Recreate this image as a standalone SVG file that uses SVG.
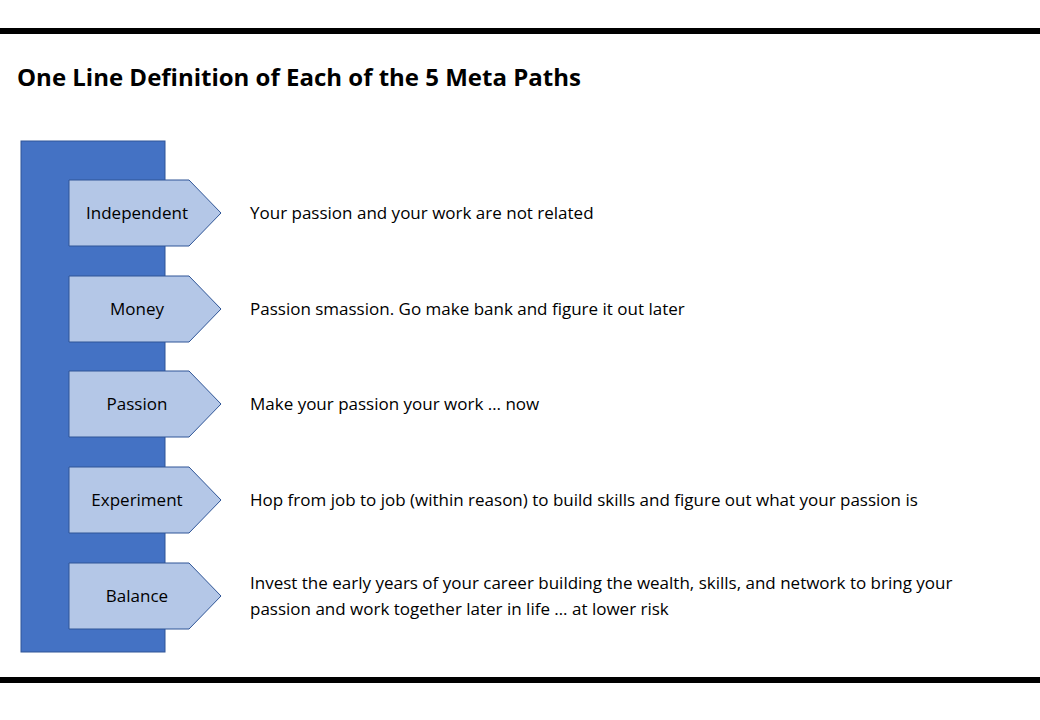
<svg xmlns="http://www.w3.org/2000/svg" width="1040" height="720" viewBox="0 0 1040 720">
<style>
text{font-family:"Open Sans","Liberation Sans",sans-serif;fill:#000}
.t{font-size:17px}
.n{font-size:17px;text-anchor:middle}
.p{fill:#b4c7e7;stroke:#2f5597;stroke-width:1}
</style>
<rect width="1040" height="720" fill="#fff"/>
<rect x="0" y="28" width="1040" height="6" fill="#000"/>
<rect x="0" y="677" width="1040" height="6" fill="#000"/>
<text x="17" y="86" style="font-size:24px;font-weight:bold">One Line Definition of Each of the 5 Meta Paths</text>
<rect x="21" y="141" width="144" height="511" fill="#4472c4" stroke="#2f5597"/>
<g id="connectors"></g>
<g id="n1"><polygon class="p" points="69,180 189,180 221,213 189,246 69,246"/><text class="n" x="137" y="219">Independent</text></g>
<g id="n2"><polygon class="p" points="69,276 189,276 221,309 189,342 69,342"/><text class="n" x="137" y="315">Money</text></g>
<g id="n3"><polygon class="p" points="69,371 189,371 221,404 189,437 69,437"/><text class="n" x="137" y="410">Passion</text></g>
<g id="n4"><polygon class="p" points="69,467 189,467 221,500 189,533 69,533"/><text class="n" x="137" y="506">Experiment</text></g>
<g id="n5"><polygon class="p" points="69,563 189,563 221,596 189,629 69,629"/><text class="n" x="137" y="602">Balance</text></g>
<text class="t" x="250" y="219">Your passion and your work are not related</text>
<text class="t" x="250" y="315">Passion smassion. Go make bank and figure it out later</text>
<text class="t" x="250" y="410">Make your passion your work … now</text>
<text class="t" x="250" y="506">Hop from job to job (within reason) to build skills and figure out what your passion is</text>
<text class="t" x="250" y="589">Invest the early years of your career building the wealth, skills, and network to bring your</text>
<text class="t" x="250" y="615">passion and work together later in life … at lower risk</text>
</svg>
